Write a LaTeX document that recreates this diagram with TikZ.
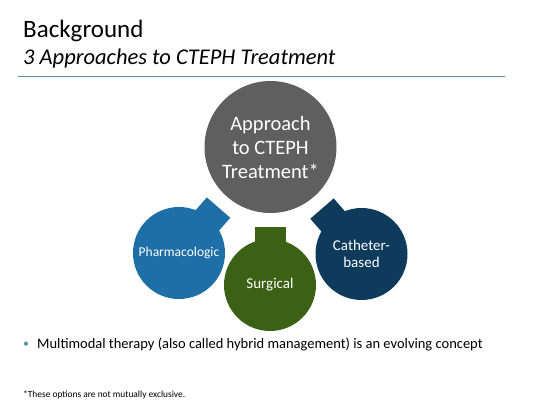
\documentclass[tikz,border=0pt]{standalone}
\usepackage{fontspec}
\setmainfont{Carlito}
\usetikzlibrary{positioning}
\definecolor{hubgray}{RGB}{95,95,95}
\definecolor{pharmblue}{RGB}{30,110,168}
\definecolor{surggreen}{RGB}{58,97,20}
\definecolor{cathnavy}{RGB}{14,58,92}
\definecolor{ruleteal}{RGB}{90,150,165}
\begin{document}
\begin{tikzpicture}[
    x=1pt, y=1pt,
    hub/.style={circle, fill=hubgray, minimum size=132pt, inner sep=0pt, text=white,
                align=center, font=\fontsize{20.5}{24}\selectfont},
    sat/.style={circle, minimum size=92pt, inner sep=0pt, text=white,
                align=center, font=\fontsize{15}{17}\selectfont},
    tab/.style={rectangle, minimum width=60pt, minimum height=31pt, inner sep=0pt,
                anchor=west},
    ttl/.style={anchor=base west, inner sep=0pt},
  ]
  \useasboundingbox (0,0) rectangle (540,405);

  % ---------------- title
  \node[ttl, font=\fontsize{25}{30}\selectfont] (ttla) at (23,367) {Background};
  \node[ttl, font=\fontsize{22.5}{26}\selectfont\itshape] (ttlb) at (23,340)
       {3 Approaches to CTEPH Treatment};
  \coordinate (rl) at (18,329);
  \coordinate (rr) at (505,329);
  \draw[ruleteal, line width=0.9pt] (rl) -- (rr);

  % ---------------- hub
  \node[hub] (hub) at (270.5,258) {Approach\\to CTEPH\\Treatment*};

  % ---------------- satellites
  \node[tab, fill=pharmblue, rotate=49] (tpha) at (179,152) {};
  \node[sat, fill=pharmblue, font=\fontsize{13.5}{16}\selectfont] (pha) at (179,152)
       {Pharmacologic};
  \node[tab, fill=surggreen, rotate=90] (tsur) at (270,118) {};
  \node[sat, fill=surggreen] (sur) at (270,120) {Surgical};
  \node[tab, fill=cathnavy, rotate=131] (tcat) at (361.5,151) {};
  \node[sat, fill=cathnavy] (cat) at (361.5,151) {Catheter-\\based};

  % ---------------- notes
  \node[ttl, text=ruleteal, font=\fontsize{12}{14}\selectfont] (blt) at (23,58) {•};
  \node[ttl, font=\fontsize{14.5}{17}\selectfont] (note) at (37,57)
       {Multimodal therapy (also called hybrid management) is an evolving concept};
  \node[ttl, font=\fontsize{9.4}{11}\selectfont] (foot) at (23,8)
       {*These options are not mutually exclusive.};
\end{tikzpicture}
\end{document}
